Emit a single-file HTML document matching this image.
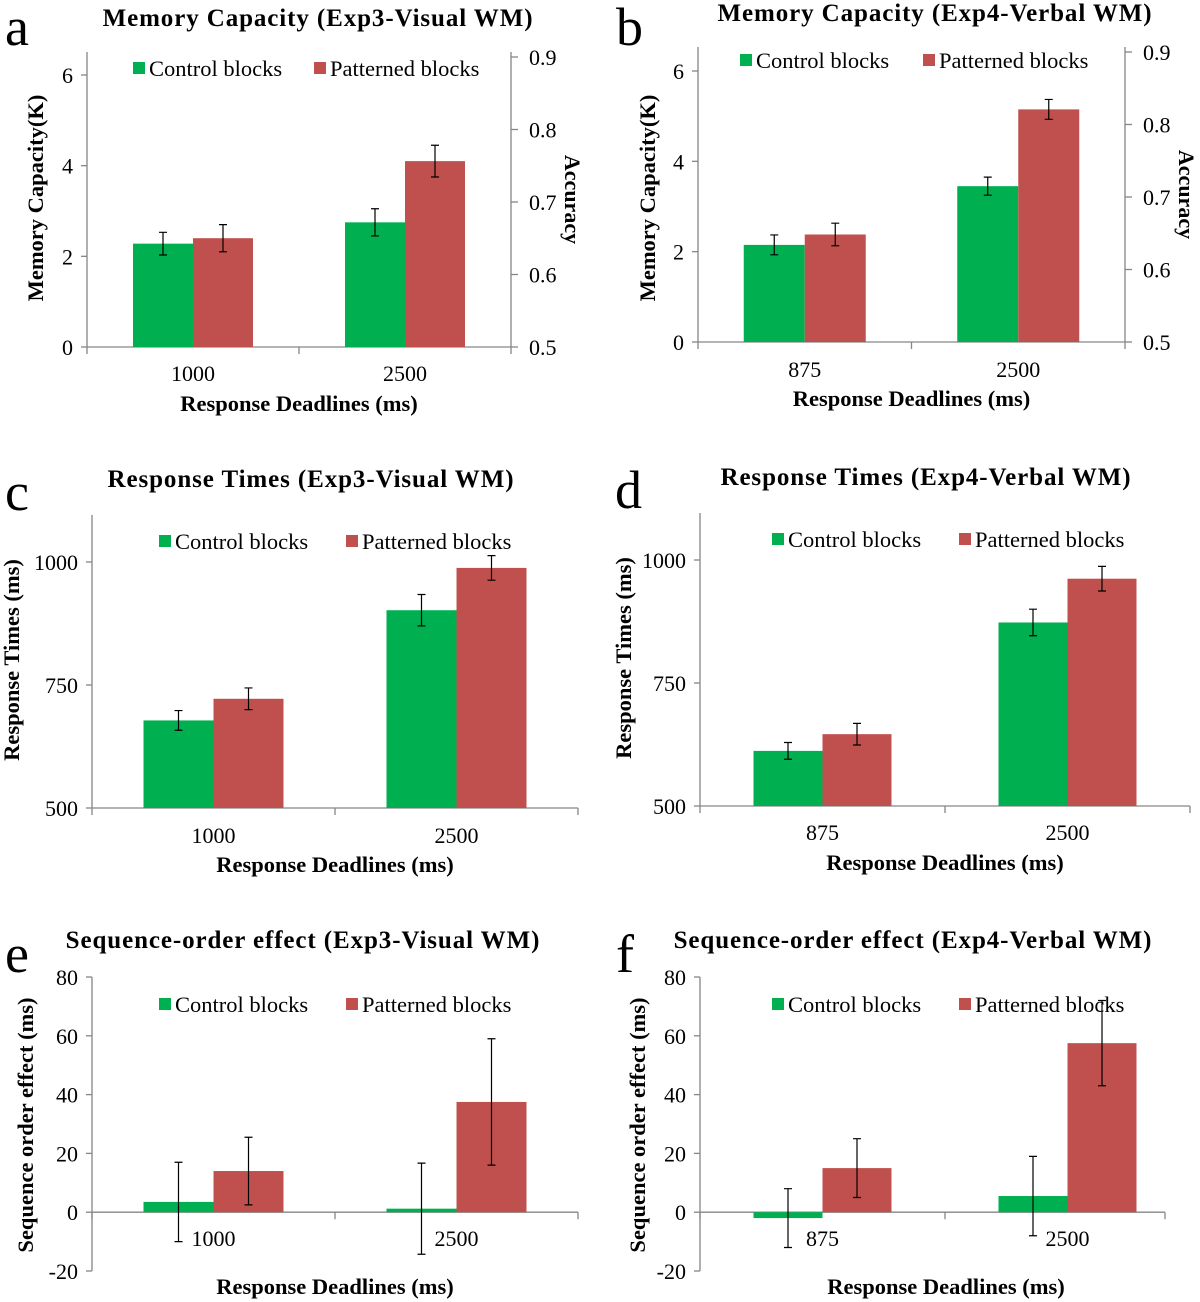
<!DOCTYPE html>
<html><head><meta charset="utf-8"><style>
html,body{margin:0;padding:0;background:#fff}
svg{display:block;font-family:"Liberation Serif",serif}
</style></head><body>
<svg id="chart" width="1200" height="1302" viewBox="0 0 1200 1302" xmlns="http://www.w3.org/2000/svg"></svg>
<script>
const categoriesA = ["1000","2500"];
const categoriesB = ["875","2500"];
const controlA = [2.28, 2.75];
const patternedA = [2.40, 4.10];
const controlAErr = [0.25, 0.30];
const patternedAErr = [0.30, 0.35];
const controlB = [2.15, 3.45];
const patternedB = [2.38, 5.15];
const controlBErr = [0.22, 0.20];
const patternedBErr = [0.25, 0.22];
const controlC = [678, 902];
const patternedC = [722, 988];
const controlCErr = [20, 32];
const patternedCErr = [22, 25];
const controlD = [612, 873];
const patternedD = [646, 962];
const controlDErr = [17, 27];
const patternedDErr = [22, 25];
const controlE = [3.5, 1.2];
const patternedE = [14, 37.5];
const controlEErr = [13.5, 15.5];
const patternedEErr = [11.5, 21.5];
const controlF = [-2, 5.5];
const patternedF = [15, 57.5];
const controlFErr = [10, 13.5];
const patternedFErr = [10, 14.5];
const ticksMem = [0,2,4,6];
const ticksAcc = ["0.5","0.6","0.7","0.8","0.9"];
const ticksRT = [500,750,1000];
const ticksSeq = [-20,0,20,40,60,80];

const NS="http://www.w3.org/2000/svg";
const svg=document.getElementById('chart');
const GREEN="#00b050", RED="#c0504d", AX="#868686";
function mk(tag,attrs,parent,text){const e=document.createElementNS(NS,tag);for(const k in attrs)e.setAttribute(k,attrs[k]);if(text!==undefined)e.textContent=text;(parent||svg).appendChild(e);return e;}

function panel(p){
  const g=mk('g',{});
  
  
  const y=v=>p.yA+(v-p.vA)*(p.yB-p.yA)/(p.vB-p.vA);
  const base=y(p.base);
  const axEnd=p.axEnd||p.x1;
  const la=mk('line',{x1:p.x0,x2:p.x0,y1:p.top,y2:y(p.ticks[0]),stroke:AX,'stroke-width':1.3},g);
  
  
  p.ticks.forEach(t=>{
    mk('line',{x1:p.x0-6,x2:p.x0,y1:y(t),y2:y(t),stroke:AX,'stroke-width':1.3},g);
    const tl=mk('text',{x:p.x0-14,y:y(t)+8,'text-anchor':'end','font-size':22,fill:'#000'},g,String(t));
    
    
  });
  const xa=mk('line',{x1:p.x0,x2:axEnd,y1:base,y2:base,stroke:AX,'stroke-width':1.3},g);
  
  
  const cw=(p.x1-p.x0)/p.cats.length;
  for(let i=0;i<=p.cats.length;i++){const x=Math.min(p.x0+i*cw,axEnd);mk('line',{x1:x,x2:x,y1:base,y2:base+7,stroke:AX,'stroke-width':1.3},g);}
  if(p.right){
    mk('line',{x1:p.x1,x2:p.x1,y1:p.top,y2:base,stroke:AX,'stroke-width':1.3},g);
    const n=ticksAcc.length;
    ticksAcc.forEach((t,i)=>{
      const yy=p.rA+(p.rB-p.rA)*i/(n-1);
      mk('line',{x1:p.x1,x2:p.x1+7,y1:yy,y2:yy,stroke:AX,'stroke-width':1.3},g);
      const tl=mk('text',{x:p.x1+18,y:yy+8,'font-size':22},g,t);
      
      
    });
    const rt=mk('text',{transform:`translate(${p.x1+54},${(p.top+base)/2}) rotate(90)`,'text-anchor':'middle','font-size':22,'font-weight':'bold'},g,'Accuracy');
    
    
  }
  const bw=p.bw;
  p.cats.forEach((c,i)=>{
    const cx=p.x0+(i+0.5)*cw;
    [[p.ctrl,p.ctrlE,GREEN,-1,'control'],[p.pat,p.patE,RED,0,'patterned']].forEach(([vals,errs,col,off,nm])=>{
      const v=vals[i],yv=y(v);
      const r=mk('rect',{x:cx+off*bw,y:Math.min(yv,base),width:bw,height:Math.abs(base-yv),fill:col},g);
      
      
      const ex=cx+off*bw+bw/2, e1=y(v+errs[i]), e2=y(v-errs[i]);
      const eb=mk('path',{d:`M${ex},${e1}V${e2}M${ex-4},${e1}H${ex+4}M${ex-4},${e2}H${ex+4}`,stroke:'#000','stroke-width':1.2,fill:'none'},g);
      
      
    });
    const cl=mk('text',{x:cx,y:p.catY,'text-anchor':'middle','font-size':22},g,c);
    
    
  });
  const t=mk('text',{x:p.tx,y:p.ty,'text-anchor':'middle','font-size':25,'font-weight':'bold','letter-spacing':0.9},g,p.title);
  
  
  const L=mk('text',{x:p.lx,y:p.ly,'font-size':54},g,p.letter);
  
  
  const xt=mk('text',{x:p.xtX||(p.x0+p.x1)/2,y:p.xtY,'text-anchor':'middle','font-size':22.5,'font-weight':'bold'},g,'Response Deadlines (ms)');
  
  
  const yt=mk('text',{transform:`translate(${p.ytX},${p.ytY}) rotate(-90)`,'text-anchor':'middle','font-size':22.5,'font-weight':'bold'},g,p.ytitle);
  
  
  const lg=mk('g',{},g);
  
  
  mk('rect',{x:p.legX,y:p.legY-14,width:12,height:12,fill:GREEN},lg);
  mk('text',{x:p.legX+16,y:p.legY,'font-size':22.5},lg,'Control blocks');
  mk('rect',{x:p.legX2,y:p.legY-14,width:12,height:12,fill:RED},lg);
  mk('text',{x:p.legX2+16,y:p.legY,'font-size':22.5},lg,'Patterned blocks');
}

panel({name:'panel-a',letter:'a',lx:5,ly:45,title:'Memory Capacity (Exp3-Visual WM)',tx:318,ty:26,
 x0:87,x1:511,top:52,yA:347,vA:0,yB:75,vB:6,base:0,ticks:ticksMem,cats:categoriesA,bw:60,
 ctrl:controlA,ctrlE:controlAErr,pat:patternedA,patE:patternedAErr,catY:381,xtY:411,ytX:43,ytY:198,ytitle:'Memory Capacity(K)',
 right:true,rA:347,rB:57,legX:133,legX2:314,legY:76});
panel({name:'panel-b',letter:'b',lx:616,ly:45,title:'Memory Capacity (Exp4-Verbal WM)',tx:935,ty:21,
 x0:698,x1:1125,top:47,yA:342,vA:0,yB:71,vB:6,base:0,ticks:ticksMem,cats:categoriesB,bw:61,
 ctrl:controlB,ctrlE:controlBErr,pat:patternedB,patE:patternedBErr,catY:377,xtY:406,ytX:655,ytY:198,ytitle:'Memory Capacity(K)',
 right:true,rA:342,rB:52,legX:740,legX2:923,legY:68});
panel({name:'panel-c',letter:'c',lx:5,ly:510,title:'Response Times (Exp3-Visual WM)',tx:311,ty:487,
 x0:92,x1:578,top:515,yA:808,vA:500,yB:562,vB:1000,base:500,ticks:ticksRT,cats:categoriesA,bw:70,
 ctrl:controlC,ctrlE:controlCErr,pat:patternedC,patE:patternedCErr,catY:843,xtY:872,ytX:19,ytY:660,ytitle:'Response Times (ms)',
 right:false,legX:159,legX2:346,legY:549});
panel({name:'panel-d',letter:'d',lx:615,ly:508,title:'Response Times (Exp4-Verbal WM)',tx:926,ty:485,
 x0:700,x1:1190,top:513,yA:806,vA:500,yB:560,vB:1000,base:500,ticks:ticksRT,cats:categoriesB,bw:69,
 ctrl:controlD,ctrlE:controlDErr,pat:patternedD,patE:patternedDErr,catY:840,xtY:870,ytX:631,ytY:658,ytitle:'Response Times (ms)',
 right:false,legX:772,legX2:959,legY:547});
panel({name:'panel-e',letter:'e',lx:5,ly:972,title:'Sequence-order effect (Exp3-Visual WM)',tx:303,ty:948,
 x0:92,x1:578,top:977,yA:1271,vA:-20,yB:977,vB:80,base:0,ticks:ticksSeq,cats:categoriesA,bw:70,
 ctrl:controlE,ctrlE:controlEErr,pat:patternedE,patE:patternedEErr,catY:1246,xtY:1294,ytX:33,ytY:1125,ytitle:'Sequence order effect (ms)',
 right:false,legX:159,legX2:346,legY:1012});
panel({name:'panel-f',letter:'f',lx:616,ly:972,title:'Sequence-order effect (Exp4-Verbal WM)',tx:913,ty:948,
 x0:700,x1:1190,axEnd:1165,xtX:946,top:977,yA:1271,vA:-20,yB:977,vB:80,base:0,ticks:ticksSeq,cats:categoriesB,bw:69,
 ctrl:controlF,ctrlE:controlFErr,pat:patternedF,patE:patternedFErr,catY:1246,xtY:1294,ytX:645,ytY:1125,ytitle:'Sequence order effect (ms)',
 right:false,legX:772,legX2:959,legY:1012});
</script>
</body></html>
